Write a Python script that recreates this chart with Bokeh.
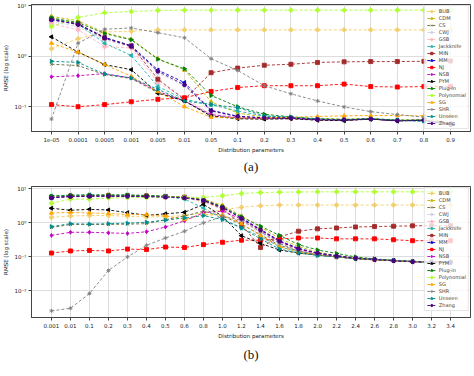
from bokeh.plotting import figure
from bokeh.models import Range1d, FixedTicker, Legend, LegendItem, Title
from bokeh.layouts import column
from bokeh.embed import file_html
from bokeh.resources import INLINE

# ---------------- data ----------------
params_a = ["1e-05", "0.0001", "0.0005", "0.001", "0.005", "0.01", "0.05", "0.1",
            "0.2", "0.3", "0.4", "0.5", "0.6", "0.7", "0.8", "0.9"]
params_b = ["0.001", "0.01", "0.1", "0.2", "0.3", "0.4", "0.5", "0.6", "0.8", "1.0", "1.2",
            "1.4", "1.6", "1.8", "2.0", "2.2", "2.4", "2.6", "2.8", "3.0", "3.2", "3.4"]
series = ["BUB", "CDM", "CS", "CWJ", "GSB", "Jackknife", "MIN", "MM", "NJ", "NSB", "PYM",
          "Plug-in", "Polynomial", "SG", "SHR", "Unseen", "Zhang"]
ytick_a = [0.1, 1, 10]
ytick_b = [0.01, 0.1, 1, 10]
ytick_labels = {0.01: "10\u207b\u00b2", 0.1: "10\u207b\u00b9", 1: "10\u2070", 10: "10\u00b9"}

a_BUB = [1.4, 2.2, 3.0, 3.1, 3.3, 3.3, 3.3, 3.3, 3.3, 3.3, 3.3, 3.3, 3.3, 3.3, 3.3, 3.3]
a_CDM = [6.1, 5.0, 2.9, 2.15, 0.89, 0.53, 0.125, 0.075, 0.062, 0.06, 0.058, 0.057, 0.058, 0.055, 0.055, 0.046]
a_CS = [0.69, 0.65, 0.43, 0.36, 0.19, 0.13, 0.066, 0.058, 0.057, 0.058, 0.055, 0.054, 0.057, 0.053, 0.054, 0.045]
a_CWJ = [4.8, 3.8, 2.1, 1.5, 0.46, 0.26, 0.078, 0.062, 0.059, 0.06, 0.056, 0.055, 0.057, 0.053, 0.054, 0.045]
a_GSB = [4.4, 3.3, 1.55, 1.45, 0.3, 0.15, 0.07, 0.06, 0.058, 0.059, 0.055, 0.054, 0.057, 0.053, 0.054, 0.045]
a_Jackknife = [5.6, 4.3, 1.8, 1.03, 0.25, 0.14, 0.11, 0.082, 0.065, 0.062, 0.057, 0.055, 0.057, 0.054, 0.051, 0.046]
a_MIN = [5.4, 4.4, 2.3, 1.6, 0.35, 0.14, 0.47, 0.58, 0.66, 0.69, 0.75, 0.77, 0.78, 0.78, 0.79, 0.8]
a_MM = [5.3, 4.3, 2.35, 1.6, 0.53, 0.3, 0.085, 0.065, 0.06, 0.06, 0.056, 0.055, 0.057, 0.053, 0.054, 0.045]
a_NJ = [0.11, 0.1, 0.11, 0.125, 0.14, 0.15, 0.2, 0.24, 0.26, 0.26, 0.26, 0.28, 0.25, 0.245, 0.25, 0.25]
a_NSB = [0.39, 0.41, 0.45, 0.37, 0.2, 0.13, 0.07, 0.06, 0.058, 0.059, 0.055, 0.054, 0.057, 0.053, 0.054, 0.045]
a_PYM = [2.4, 1.2, 0.68, 0.54, 0.185, 0.13, 0.065, 0.058, 0.057, 0.058, 0.054, 0.053, 0.057, 0.052, 0.054, 0.045]
a_Plugin = [5.7, 4.6, 2.8, 2.1, 0.87, 0.56, 0.167, 0.1, 0.071, 0.063, 0.058, 0.056, 0.058, 0.054, 0.055, 0.045]
a_Polynomial = [3.85, 5.8, 7.2, 7.6, 8.0, 8.1, 8.1, 8.1, 8.1, 8.1, 8.1, 8.1, 8.1, 8.1, 8.1, 8.1]
a_SG = [1.8, 1.2, 0.68, 0.4, 0.2, 0.1, 0.062, 0.06, 0.06, 0.062, 0.064, 0.066, 0.067, 0.067, 0.066, 0.068]
a_SHR = [0.057, 1.8, 3.4, 3.6, 2.9, 2.3, 0.89, 0.52, 0.26, 0.18, 0.13, 0.099, 0.08, 0.07, 0.062, 0.047]
a_Unseen = [0.79, 0.75, 0.44, 0.37, 0.22, 0.13, 0.11, 0.096, 0.066, 0.062, 0.057, 0.055, 0.058, 0.054, 0.052, 0.045]
a_Zhang = [5.2, 4.2, 2.25, 1.55, 0.5, 0.27, 0.083, 0.064, 0.06, 0.06, 0.056, 0.055, 0.057, 0.053, 0.054, 0.045]

b_BUB = [1.45, 1.6, 1.65, 1.65, 1.57, 1.5, 1.55, 1.65, 2.0, 2.4, 2.9, 3.2, 3.35, 3.35, 3.35, 3.35, 3.35, 3.35, 3.35, 3.35, 3.35, 3.35]
b_CDM = [6.0, 6.3, 6.5, 6.5, 6.5, 6.3, 6.0, 5.8, 5.0, 3.3, 1.6, 0.75, 0.35, 0.2, 0.14, 0.11, 0.095, 0.085, 0.079, 0.074, 0.071, 0.07]
b_CS = [0.73, 0.9, 0.9, 0.9, 0.92, 0.95, 1.25, 1.6, 2.2, 1.6, 0.9, 0.45, 0.22, 0.15, 0.115, 0.1, 0.09, 0.083, 0.078, 0.073, 0.071, 0.07]
b_CWJ = [5.6, 6.0, 6.1, 6.1, 6.0, 5.9, 5.7, 5.3, 4.2, 2.4, 1.1, 0.5, 0.24, 0.15, 0.12, 0.1, 0.088, 0.082, 0.077, 0.072, 0.07, 0.069]
b_GSB = [5.8, 6.2, 6.3, 6.3, 6.2, 6.1, 5.9, 5.4, 4.3, 2.5, 1.2, 0.55, 0.26, 0.16, 0.12, 0.1, 0.09, 0.082, 0.077, 0.072, 0.07, 0.069]
b_Jackknife = [6.2, 6.6, 6.7, 6.7, 6.6, 6.4, 6.0, 5.0, 2.75, 1.3, 0.71, 0.4, 0.2, 0.14, 0.115, 0.1, 0.09, 0.085, 0.08, 0.075, 0.072, 0.071]
b_MIN = [5.7, 6.1, 6.2, 6.3, 6.3, 6.2, 6.0, 5.7, 4.5, 2.6, 0.9, 0.19, 0.39, 0.57, 0.67, 0.71, 0.76, 0.78, 0.8, 0.82, 0.83, 0.83]
b_MM = [5.5, 6.0, 6.2, 6.2, 6.1, 6.0, 5.8, 5.6, 4.7, 2.9, 1.4, 0.65, 0.3, 0.18, 0.13, 0.11, 0.093, 0.085, 0.078, 0.073, 0.071, 0.07]
b_NJ = [0.13, 0.15, 0.155, 0.15, 0.17, 0.165, 0.195, 0.19, 0.23, 0.27, 0.31, 0.31, 0.34, 0.36, 0.36, 0.34, 0.34, 0.34, 0.32, 0.3, 0.3, 0.3]
b_NSB = [0.43, 0.53, 0.53, 0.51, 0.49, 0.55, 0.76, 1.15, 2.0, 2.2, 1.3, 0.6, 0.28, 0.17, 0.125, 0.105, 0.092, 0.084, 0.078, 0.073, 0.071, 0.07]
b_PYM = [2.7, 2.35, 2.5, 2.4, 2.0, 1.68, 1.85, 2.05, 3.5, 1.57, 0.42, 0.25, 0.16, 0.13, 0.115, 0.1, 0.088, 0.082, 0.077, 0.072, 0.07, 0.069]
b_Plugin = [6.1, 6.5, 6.6, 6.6, 6.6, 6.4, 6.1, 5.6, 4.8, 3.0, 1.5, 0.8, 0.43, 0.23, 0.16, 0.127, 0.1, 0.088, 0.079, 0.073, 0.071, 0.07]
b_Polynomial = [3.8, 5.0, 5.0, 5.4, 5.5, 5.6, 5.75, 5.75, 5.6, 6.3, 7.3, 7.8, 8.0, 8.1, 8.2, 8.2, 8.2, 8.2, 8.2, 8.2, 8.2, 8.2]
b_SG = [1.95, 2.05, 1.96, 1.9, 1.75, 1.75, 1.6, 1.25, 1.75, 1.7, 0.95, 0.43, 0.2, 0.14, 0.115, 0.1, 0.09, 0.083, 0.078, 0.074, 0.071, 0.07]
b_SHR = [0.0026, 0.0031, 0.0084, 0.04, 0.1, 0.22, 0.36, 0.57, 1.0, 1.55, 1.2, 0.55, 0.25, 0.15, 0.115, 0.1, 0.09, 0.083, 0.078, 0.073, 0.071, 0.07]
b_Unseen = [0.78, 0.95, 0.92, 0.95, 0.98, 1.05, 1.2, 1.4, 1.64, 1.25, 0.71, 0.34, 0.17, 0.13, 0.11, 0.1, 0.09, 0.085, 0.079, 0.074, 0.071, 0.07]
b_Zhang = [5.4, 5.9, 6.0, 6.0, 6.0, 5.9, 5.7, 5.5, 4.6, 2.8, 1.35, 0.62, 0.29, 0.17, 0.13, 0.105, 0.092, 0.084, 0.077, 0.072, 0.07, 0.069]

data_a = dict(zip(series, [a_BUB, a_CDM, a_CS, a_CWJ, a_GSB, a_Jackknife, a_MIN, a_MM, a_NJ, a_NSB,
                           a_PYM, a_Plugin, a_Polynomial, a_SG, a_SHR, a_Unseen, a_Zhang]))
data_b = dict(zip(series, [b_BUB, b_CDM, b_CS, b_CWJ, b_GSB, b_Jackknife, b_MIN, b_MM, b_NJ, b_NSB,
                           b_PYM, b_Plugin, b_Polynomial, b_SG, b_SHR, b_Unseen, b_Zhang]))

# ---------------- styles ----------------
colors = {"BUB": "#f3cf6a", "CDM": "#c8b400", "CS": "#6b6b3a", "CWJ": "#d6d0e6", "GSB": "#ffb6c1",
          "Jackknife": "#20b2aa", "MIN": "#a52a2a", "MM": "#0000cd", "NJ": "#ff0000", "NSB": "#c000c0",
          "PYM": "#000000", "Plug-in": "#008000", "Polynomial": "#adff2f", "SG": "#ffa500",
          "SHR": "#808080", "Unseen": "#008b8b", "Zhang": "#4b0082"}
markers = {"BUB": "plus", "CDM": "triangle", "CS": "x", "CWJ": "plus", "GSB": "plus",
           "Jackknife": "triangle", "MIN": "square", "MM": "triangle", "NJ": "square", "NSB": "diamond",
           "PYM": "triangle", "Plug-in": "triangle", "Polynomial": "plus", "SG": "triangle",
           "SHR": "asterisk", "Unseen": "triangle", "Zhang": "hex"}
angles = {"Jackknife": 1.5708, "MM": 1.5708, "PYM": 1.5708, "Unseen": -1.5708, "Plug-in": -1.5708}

FONT = "DejaVu Sans"


def make_panel(params, data, yr, yticks, tag, frame_h, top, bottom, tag_standoff):
    n = len(params)
    xs = list(range(n))
    pad = 0.05 * (n - 1)
    p = figure(frame_width=439, frame_height=frame_h, y_axis_type="log",
               x_range=Range1d(-pad, n - 1 + pad), y_range=Range1d(*yr),
               output_backend="svg", toolbar_location=None,
               min_border_left=25, min_border_right=2, min_border_top=top,
               min_border_bottom=bottom)
    items = []
    for name in series:
        c = colors[name]
        ln = p.line(xs, data[name], line_color=c, line_width=0.9, line_dash="3 2")
        sc = p.scatter(xs, data[name], marker=markers[name], size=4, line_color=c,
                       fill_color=c, line_width=0.9, angle=angles.get(name, 0.0))
        items.append(LegendItem(label=name, renderers=[ln, sc]))

    p.xaxis.ticker = FixedTicker(ticks=xs)
    p.xaxis.major_label_overrides = {i: s for i, s in enumerate(params)}
    p.yaxis.ticker = FixedTicker(ticks=yticks)
    p.yaxis.major_label_overrides = {t: ytick_labels[t] for t in yticks}
    p.xaxis.axis_label = "Distribution parameters"
    p.yaxis.axis_label = "RMSE (log scale)"
    for ax in p.axis:
        ax.major_label_text_font = FONT
        ax.major_label_text_font_size = "5.5px"
        ax.axis_label_text_font = FONT
        ax.axis_label_text_font_size = "5.5px"
        ax.axis_label_text_font_style = "normal"
        ax.major_tick_in = 0
        ax.major_tick_out = 3
        ax.minor_tick_in = 0
        ax.minor_tick_out = 0
        ax.axis_line_color = "#444444"
        ax.major_tick_line_color = "#444444"
        ax.major_label_standoff = 2
        ax.axis_label_standoff = 2
        ax.major_label_text_color = "#222222"
        ax.axis_label_text_color = "#222222"
    p.grid.grid_line_color = "#d4d4d4"
    p.grid.grid_line_width = 0.8
    p.outline_line_color = "#444444"
    p.outline_line_width = 1

    leg = Legend(items=items, location="top_right")
    leg.label_text_font = FONT
    leg.label_text_font_size = "5px"
    leg.glyph_width = 9
    leg.glyph_height = 6
    leg.label_height = 6
    leg.spacing = 1
    leg.padding = 2
    leg.margin = 1
    leg.label_standoff = 3
    leg.background_fill_alpha = 0.8
    leg.border_line_color = "#cccccc"
    leg.border_line_width = 0.8
    p.add_layout(leg)

    p.add_layout(Title(text=tag, align="center", text_font="Liberation Serif",
                       text_font_size="13px", text_font_style="normal",
                       text_color="#111111", standoff=tag_standoff), "below")
    return p


pa = make_panel(params_a, data_a, (10 ** -1.49, 10 ** 1.02), ytick_a, "(a)", 127, 4, 14, 2)
pb = make_panel(params_b, data_b, (10 ** -2.78, 10 ** 1.07), ytick_b, "(b)", 131, 12, 4, 6)

layout = column(pa, pb)
open("out.html", "w").write(file_html(layout, INLINE))
